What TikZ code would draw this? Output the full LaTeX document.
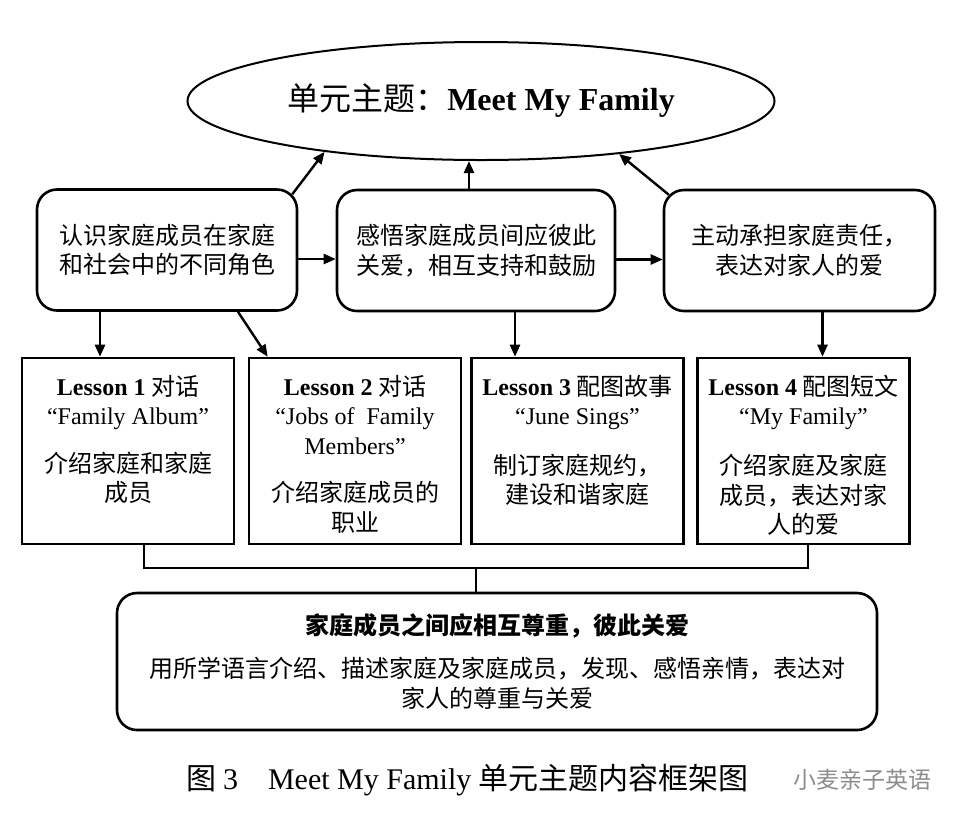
\documentclass[tikz,border=0pt]{standalone}
\usepackage{fontspec}
\setmainfont{Liberation Serif}
\newfontfamily\cjkfont{Noto Sans CJK SC}
\newcommand{\en}[1]{{\rmfamily #1}}
\usetikzlibrary{shapes.geometric, arrows.meta, positioning, calc}

\begin{document}
\begin{tikzpicture}[x=0.5pt, y=-0.5pt, line width=1.3pt,
  font=\cjkfont\fontsize{12}{14.8}\selectfont,
  theme/.style={draw, ellipse, line width=1pt, minimum width=293.5pt, minimum height=59pt, inner sep=0pt, font=\cjkfont\fontsize{16}{19}\selectfont},
  goal/.style={draw, rounded corners=10pt, minimum height=60.5pt, align=center, inner sep=0pt},
  lesson/.style={draw, minimum width=106pt, minimum height=93pt, inner sep=0pt},
  lessontext/.style={align=center, inner sep=0pt},
  summary/.style={draw, rounded corners=10pt, minimum width=380pt, minimum height=68.5pt, align=center, inner sep=0pt},
  arr/.style={-{Triangle[length=6pt, width=5pt]}, line width=1.2pt}
]
  \useasboundingbox (0,0) rectangle (957,821);

  % Unit theme
  \node[theme] (theme) at (481,101) {单元主题：\en{\textbf{Meet My Family}}};

  % Goals
  \node[goal, minimum width=130pt] (ga) at (167,250) {认识家庭成员在家庭\\和社会中的不同角色};
  \node[goal, minimum width=139pt] (gb) at (476,250.5) {感悟家庭成员间应彼此\\关爱，相互支持和鼓励};
  \node[goal, minimum width=135.5pt] (gc) at (799.5,250.5) {主动承担家庭责任，\\表达对家人的爱};

  % Lessons
  \node[lesson] (l1) at (128,451) {};
  \node[lesson] (l2) at (355,451) {};
  \node[lesson] (l3) at (577.5,451) {};
  \node[lesson] (l4) at (803.5,451) {};
  \node[lessontext, below=8.5pt of l1.north] (l1t) {\en{\textbf{Lesson 1}} 对话\\\en{“Family Album”}\\[9pt]介绍家庭和家庭\\成员};
  \node[lessontext, below=8.5pt of l2.north] (l2t) {\en{\textbf{Lesson 2}} 对话\\\en{“Jobs of\ \ Family}\\\en{Members”}\\[9pt]介绍家庭成员的\\职业};
  \node[lessontext, below=8.5pt of l3.north] (l3t) {\en{\textbf{Lesson 3}} 配图故事\\\en{“June Sings”}\\[10pt]制订家庭规约，\\建设和谐家庭};
  \node[lessontext, below=8.5pt of l4.north] (l4t) {\en{\textbf{Lesson 4}} 配图短文\\\en{“My Family”}\\[10pt]介绍家庭及家庭\\成员，表达对家\\人的爱};

  % Summary
  \node[summary] (sum) at (497,661.5) {\textbf{家庭成员之间应相互尊重，彼此关爱}\\[6.5pt]用所学语言介绍、描述家庭及家庭成员，发现、感悟亲情，表达对\\家人的尊重与关爱};

  % Caption
  \node[anchor=west, inner sep=0pt, font=\cjkfont\fontsize{15}{18}\selectfont] (caption) at (185,780) {图 \en{3\quad Meet My Family} 单元主题内容框架图};
  \node[anchor=west, inner sep=0pt, text=black!45, font=\cjkfont\fontsize{11.5}{14}\selectfont] (mark) at (792,780) {小麦亲子英语};

  % Goals to theme
  \draw[arr] ($(ga.north east)+(-6,6)$) -- (theme.198);
  \draw[arr] ([xshift=-3.5pt]gb.north) -- ([xshift=-3.5pt]gb.north |- theme.south);
  \draw[arr] ($(gc.north west)+(6,6)$) -- (theme.339);

  % Goals in a row
  \draw[arr] ([yshift=-4.5pt]ga.east) -- ([yshift=-4.5pt]ga.east -| gb.west);
  \draw[arr] ([yshift=-4.5pt]gb.east) -- ([yshift=-4.5pt]gb.east -| gc.west);

  % Goals to lessons
  \draw[arr] ([xshift=-33.5pt]ga.south) -- ([xshift=-33.5pt]ga.south |- l1.north);
  \draw[arr] ([xshift=35.5pt]ga.south) -- ([xshift=10pt]l2.north west);
  \draw[arr] ([xshift=19.5pt]gb.south) -- ([xshift=19.5pt]gb.south |- l3.north);
  \draw[arr] ([xshift=11.5pt]gc.south) -- ([xshift=11.5pt]gc.south |- l4.north);

  % Lessons to summary
  \coordinate (join) at (476,568);
  \draw[line width=1pt] ([xshift=8pt]l1.south) |- (join) -| ([xshift=2pt]l4.south);
  \draw[line width=1pt] (join) -- (join |- sum.north);
\end{tikzpicture}
\end{document}
